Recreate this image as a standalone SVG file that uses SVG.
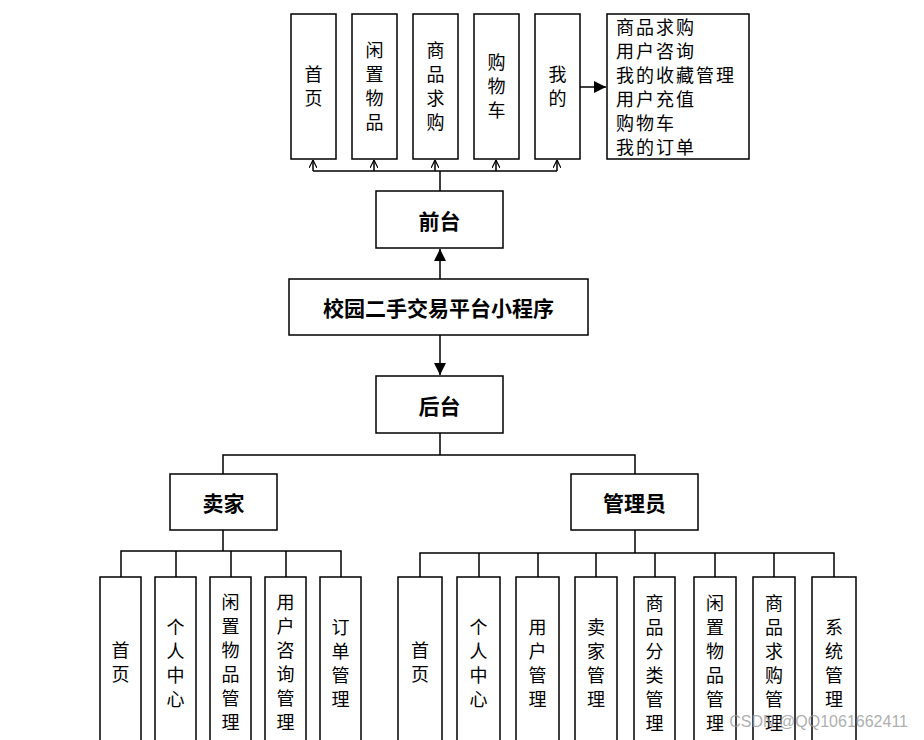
<svg xmlns="http://www.w3.org/2000/svg" width="924" height="740" viewBox="0 0 924 740">
<defs>
<style>
.b{fill:#fff;stroke:#000;stroke-width:1.5}
.c{fill:none;stroke:#000;stroke-width:1.5}
.t{font-family:"Noto Sans CJK SC",sans-serif;font-size:18px;text-anchor:middle;dominant-baseline:central;fill:#000}
.h{font-family:"Noto Sans CJK SC",sans-serif;font-size:21px;font-weight:bold;text-anchor:middle;dominant-baseline:central;fill:#000}
.l{font-family:"Noto Sans CJK SC",sans-serif;font-size:18px;letter-spacing:2px;fill:#000;dominant-baseline:central}
</style>
<marker id="op" viewBox="0 0 10 10" refX="10" refY="5" markerWidth="8" markerHeight="8" orient="auto" markerUnits="userSpaceOnUse"><path d="M0,0L10,5L0,10" fill="none" stroke="#000" stroke-width="1.5"/></marker>
<marker id="fa" viewBox="0 0 10 10" refX="10" refY="5" markerWidth="14" markerHeight="12" orient="auto" markerUnits="userSpaceOnUse"><path d="M0,0L10,5L0,10z" fill="#000"/></marker>
</defs>
<g id="connectors" class="c">
<path d="M440 191V171M313 171H557" />
<path d="M313 171V160" marker-end="url(#op)"/><path d="M374 171V160" marker-end="url(#op)"/><path d="M435 171V160" marker-end="url(#op)"/><path d="M496 171V160" marker-end="url(#op)"/><path d="M557 171V160" marker-end="url(#op)"/>
<path d="M580 87H606" marker-end="url(#fa)"/>
<path d="M440 279V249" marker-end="url(#fa)"/>
<path d="M440 335V375" marker-end="url(#fa)"/>
<path d="M440 433V455M223 474V455H635V474"/>
<path d="M223 530V551M121 577V551H341V577M176 551V577M231 551V577M286 551V577"/>
<path d="M635 530V553M420 577V553H834V577M479 553V577M538 553V577M596 553V577M655 553V577M715 553V577M774 553V577"/>
</g>
<g id="n1"><rect class="b" x="291" y="14" width="45" height="145"/><text class="t" x="313.5" y="73">首</text><text class="t" x="313.5" y="97">页</text></g>
<g id="n2"><rect class="b" x="352" y="14" width="45" height="145"/><text class="t" x="374.5" y="49">闲</text><text class="t" x="374.5" y="73">置</text><text class="t" x="374.5" y="97">物</text><text class="t" x="374.5" y="121">品</text></g>
<g id="n3"><rect class="b" x="413" y="14" width="45" height="145"/><text class="t" x="435.5" y="49">商</text><text class="t" x="435.5" y="73">品</text><text class="t" x="435.5" y="97">求</text><text class="t" x="435.5" y="121">购</text></g>
<g id="n4"><rect class="b" x="474" y="14" width="45" height="145"/><text class="t" x="496.5" y="61">购</text><text class="t" x="496.5" y="85">物</text><text class="t" x="496.5" y="109">车</text></g>
<g id="n5"><rect class="b" x="535" y="14" width="45" height="145"/><text class="t" x="557.5" y="73">我</text><text class="t" x="557.5" y="97">的</text></g>
<g id="n6"><rect class="b" x="607" y="14" width="142" height="145"/>
<text class="l" x="616" y="26">商品求购</text><text class="l" x="616" y="50">用户咨询</text><text class="l" x="616" y="74">我的收藏管理</text><text class="l" x="616" y="98">用户充值</text><text class="l" x="616" y="122">购物车</text><text class="l" x="616" y="146">我的订单</text></g>
<g id="qt"><rect class="b" x="376" y="191" width="127" height="57"/><text class="h" x="439.5" y="219.5">前台</text></g>
<g id="main"><rect class="b" x="289" y="279" width="299" height="56"/><text class="h" x="438.5" y="307">校园二手交易平台小程序</text></g>
<g id="ht"><rect class="b" x="376" y="376" width="127" height="57"/><text class="h" x="439.5" y="404.5">后台</text></g>
<g id="seller"><rect class="b" x="170" y="474" width="107" height="56"/><text class="h" x="223.5" y="502">卖家</text></g>
<g id="admin"><rect class="b" x="571" y="474" width="127" height="56"/><text class="h" x="634.5" y="502">管理员</text></g>
<g id="s1"><rect class="b" x="100" y="577" width="41" height="170"/><text class="t" x="120.5" y="649">首</text><text class="t" x="120.5" y="673">页</text></g>
<g id="s2"><rect class="b" x="155" y="577" width="41" height="170"/><text class="t" x="175.5" y="626">个</text><text class="t" x="175.5" y="650">人</text><text class="t" x="175.5" y="674">中</text><text class="t" x="175.5" y="698">心</text></g>
<g id="s3"><rect class="b" x="210" y="577" width="41" height="170"/><text class="t" x="230.5" y="601">闲</text><text class="t" x="230.5" y="625">置</text><text class="t" x="230.5" y="649">物</text><text class="t" x="230.5" y="673">品</text><text class="t" x="230.5" y="697">管</text><text class="t" x="230.5" y="721">理</text></g>
<g id="s4"><rect class="b" x="265" y="577" width="41" height="170"/><text class="t" x="285.5" y="601">用</text><text class="t" x="285.5" y="625">户</text><text class="t" x="285.5" y="649">咨</text><text class="t" x="285.5" y="673">询</text><text class="t" x="285.5" y="697">管</text><text class="t" x="285.5" y="721">理</text></g>
<g id="s5"><rect class="b" x="320" y="577" width="41" height="170"/><text class="t" x="340.5" y="626">订</text><text class="t" x="340.5" y="650">单</text><text class="t" x="340.5" y="674">管</text><text class="t" x="340.5" y="698">理</text></g>
<g id="a1"><rect class="b" x="398" y="577" width="44" height="170"/><text class="t" x="420" y="649">首</text><text class="t" x="420" y="673">页</text></g>
<g id="a2"><rect class="b" x="457" y="577" width="43" height="170"/><text class="t" x="478.5" y="626">个</text><text class="t" x="478.5" y="650">人</text><text class="t" x="478.5" y="674">中</text><text class="t" x="478.5" y="698">心</text></g>
<g id="a3"><rect class="b" x="516" y="577" width="43" height="170"/><text class="t" x="537.5" y="626">用</text><text class="t" x="537.5" y="650">户</text><text class="t" x="537.5" y="674">管</text><text class="t" x="537.5" y="698">理</text></g>
<g id="a4"><rect class="b" x="575" y="577" width="42" height="170"/><text class="t" x="596" y="626">卖</text><text class="t" x="596" y="650">家</text><text class="t" x="596" y="674">管</text><text class="t" x="596" y="698">理</text></g>
<g id="a5"><rect class="b" x="634" y="577" width="41" height="170"/><text class="t" x="654.5" y="602">商</text><text class="t" x="654.5" y="626">品</text><text class="t" x="654.5" y="650">分</text><text class="t" x="654.5" y="674">类</text><text class="t" x="654.5" y="698">管</text><text class="t" x="654.5" y="722">理</text></g>
<g id="a6"><rect class="b" x="694" y="577" width="42" height="170"/><text class="t" x="715" y="602">闲</text><text class="t" x="715" y="626">置</text><text class="t" x="715" y="650">物</text><text class="t" x="715" y="674">品</text><text class="t" x="715" y="698">管</text><text class="t" x="715" y="722">理</text></g>
<g id="a7"><rect class="b" x="753" y="577" width="42" height="170"/><text class="t" x="774" y="602">商</text><text class="t" x="774" y="626">品</text><text class="t" x="774" y="650">求</text><text class="t" x="774" y="674">购</text><text class="t" x="774" y="698">管</text><text class="t" x="774" y="722">理</text></g>
<g id="a8"><rect class="b" x="812" y="577" width="44" height="170"/><text class="t" x="834" y="626">系</text><text class="t" x="834" y="650">统</text><text class="t" x="834" y="674">管</text><text class="t" x="834" y="698">理</text></g>
<text x="908" y="721" font-family="Liberation Sans,sans-serif" font-size="16" fill="#999" fill-opacity="0.8" text-anchor="end" dominant-baseline="central">CSDN @QQ1061662411</text>
</svg>
